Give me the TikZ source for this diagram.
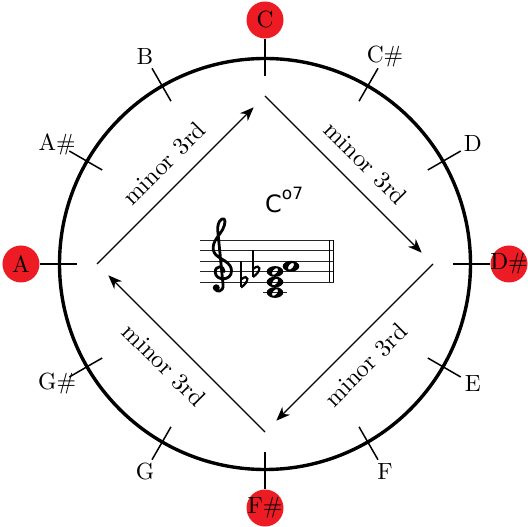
\documentclass[tikz,border=0pt]{standalone}
\usepackage{fontspec}
\newfontfamily\djsans{DejaVu Sans}
\usetikzlibrary{arrows.meta}
\definecolor{notered}{RGB}{237,28,36}
\begin{document}
\begin{tikzpicture}[x=1bp,y=1bp,
  lbl/.style={font=\fontsize{10}{12}\selectfont, scale=2.35, inner sep=0pt},
  rednote/.style={circle, fill=notered, minimum size=37bp, inner sep=0pt},
  tickline/.style={line width=1.5bp},
  arr/.style={line width=1.3bp, -{Stealth[length=14bp,width=11bp]}, shorten >=16bp},
  third/.style={font=\fontsize{10}{12}\selectfont, scale=2.45, inner sep=0pt, sloped, midway},
  staffline/.style={line width=0.8bp, black!85},
  noteglyph/.style={even odd rule, fill=black}
]
\useasboundingbox (-265,-263) rectangle (262,264);
% main ring
\node (ring) [circle, draw, line width=3.4bp, minimum size=411bp, inner sep=0pt] at (0,0) {};
% red chord tones
\node[rednote, label={[lbl]center:C}] (nC) at (90:244) {};
\node[rednote, label={[lbl]center:D\#}] (nDs) at (0:244) {};
\node[rednote, label={[lbl]center:F\#}] (nFs) at (-90:244) {};
\node[rednote, label={[lbl]center:A}] (nA) at (180:244) {};
\foreach \a/\n in {90/nC, 0/nDs, -90/nFs, 180/nA}
  \draw[tickline] (\a:188) -- (\n);
% other pitch classes
\foreach \a/\t/\n in {120/B/nB, 60/C\#/nCs, 30/D/nD, -30/E/nE, -60/F/nF, -120/G/nG, -150/G\#/nGs, 150/A\#/nAs}{
  \node[lbl] (\n) at (\a:240) {\t};
  \coordinate (\n-in) at (\a:188);
  \coordinate (\n-out) at (\a:226);
  \draw[tickline] (\n-in) -- (\n-out);
}
% diamond of minor thirds
\coordinate (vA) at (180:168);
\coordinate (vC) at (90:168);
\coordinate (vDs) at (0:168);
\coordinate (vFs) at (-90:168);
\draw[arr] (vA) -- (vC) node[third, above=5.5bp] {minor 3rd};
\draw[arr] (vC) -- (vDs) node[third, above=5.5bp] {minor 3rd};
\draw[arr] (vDs) -- (vFs) node[third, below=5.5bp] {minor 3rd};
\draw[arr] (vFs) -- (vA) node[third, below=5.5bp] {minor 3rd};
% chord name
\node[font=\djsans\fontsize{24}{24}\selectfont, anchor=base west, inner sep=0pt] (chordname) at (0,51) {C\raisebox{13bp}{\fontsize{17}{17}\selectfont o7}};
% staff
\foreach \y in {24,13.5,3,-7.5,-18}
  \draw[staffline] (-65,\y) -- (69,\y);
\draw[line width=1.2bp] (64.5,-18) -- (64.5,24);
\draw[line width=1.2bp] (68.5,-18) -- (68.5,24);
% treble clef
\begin{scope}[shift={(-44,-7.5)}, x=10.5bp, y=10.5bp]
\draw[line width=2.8bp, line cap=round, line join=round]
 (0.3,0.0) .. controls (0.3,0.6) and (-0.55,0.6) .. (-0.55,-0.05)
 .. controls (-0.55,-0.9) and (1.0,-0.95) .. (1.0,0.05)
 .. controls (1.0,0.9) and (0.0,1.1) .. (-0.5,1.6)
 .. controls (-1.05,2.2) and (-0.6,3.0) .. (-0.1,3.6)
 .. controls (0.3,4.1) and (0.5,4.8) .. (0.3,5.0)
 .. controls (0.0,5.15) and (-0.4,4.6) .. (-0.3,3.8)
 -- (0.2,-1.3)
 .. controls (0.25,-1.95) and (-0.5,-2.05) .. (-0.55,-1.6);
\fill (-0.45,-1.55) circle [radius=3.5bp];
\end{scope}
% flats
\foreach \x/\n in {-24/-18, -12/-7.5}{
  \draw[line width=1.3bp] (\x,\n+21) -- (\x,\n-5.5);
  \draw[line width=2.2bp] (\x,\n-5.5) .. controls (\x+9,\n+0.5) and (\x+8,\n+9) .. (\x,\n+2.5);
}
% ledger line
\draw[staffline] (-2,-28.5) -- (22,-28.5);
% whole notes
\foreach \x/\y in {10/-28.5, 10/-18, 10/-7.5, 26/-2.25}{
  \fill[noteglyph] (\x,\y) ellipse [x radius=8.3bp, y radius=5.4bp]
                   (\x,\y) ellipse [x radius=2.2bp, y radius=4bp, rotate=-40];
}
\end{tikzpicture}
\end{document}
